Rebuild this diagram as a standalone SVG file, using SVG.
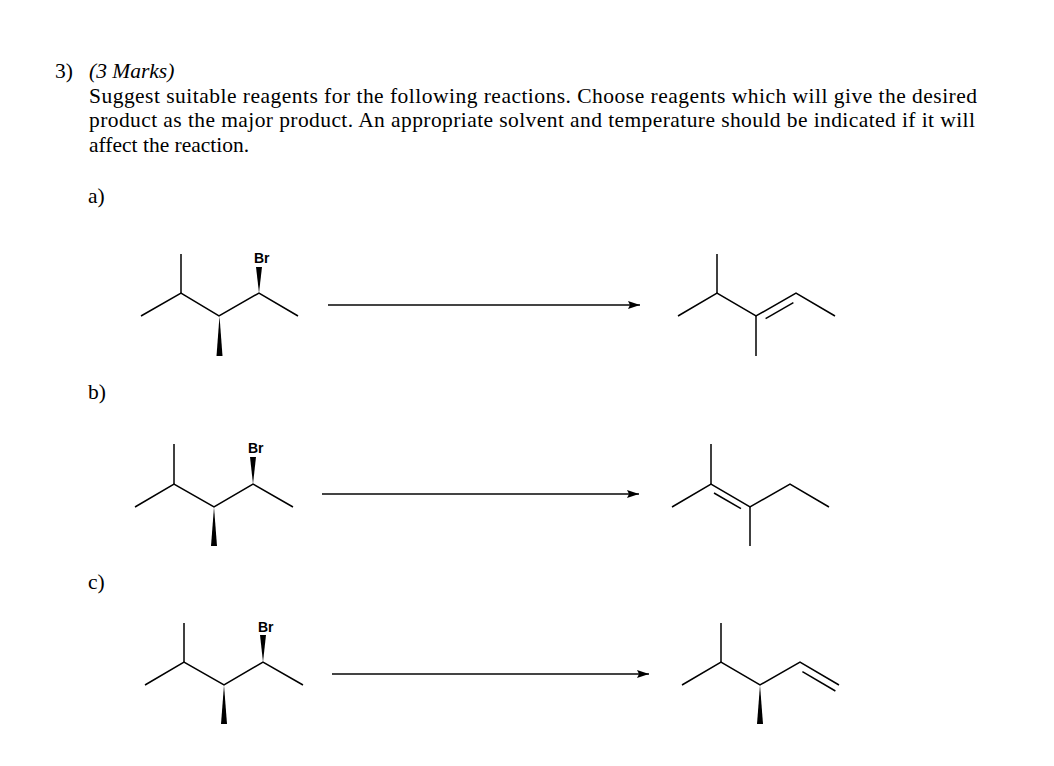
<svg xmlns="http://www.w3.org/2000/svg" width="1054" height="766" viewBox="0 0 1054 766">
<defs>
<style>
.t{font-family:"Liberation Serif","Times New Roman",serif;font-size:21.5px;fill:#000}
.i{font-style:italic}
.br{font-family:"Liberation Sans",Arial,sans-serif;font-size:14px;font-weight:bold;fill:#000}
.b{fill:none;stroke:#000;stroke-width:1.5;stroke-linecap:butt;stroke-linejoin:miter}
.w{fill:#000;stroke:none}
.ar{stroke:#444;stroke-width:2;fill:none}
</style>
<marker id="ah" viewBox="0 0 12 8" refX="12" refY="4" markerWidth="12" markerHeight="8" markerUnits="userSpaceOnUse" orient="auto">
<path d="M0,0 L12,4 L0,8 L2,4 Z" fill="#000"/>
</marker>
</defs>
<rect width="1054" height="766" fill="#fff"/>
<g id="text" xml:space="preserve">
<text class="t" x="55" y="78">3)</text>
<text class="t i" x="89" y="78">(3 Marks)</text>
<text class="t" x="89" y="103" textLength="888" lengthAdjust="spacing">Suggest suitable reagents for the following reactions.  Choose reagents which will give the desired</text>
<text class="t" x="89" y="127" textLength="886" lengthAdjust="spacing">product as the major product. An appropriate solvent and temperature should be indicated if it will</text>
<text class="t" x="89" y="152">affect the reaction.</text>
<text class="t" x="88" y="203">a)</text>
<text class="t" x="88" y="399">b)</text>
<text class="t" x="88" y="589">c)</text>
</g>
<g id="reactant-a">
<polyline class="b" points="141,316 181,293 219,316 259,293 298,316"/>
<line class="b" x1="181" y1="293" x2="181" y2="254"/>
<polygon class="w" points="219.5,316 216.5,356 222.5,356"/>
<polygon class="w" points="259,293 256,267 262,267"/>
<text class="br" x="254" y="263">Br</text>
</g>
<g id="product-a">
<polyline class="b" points="678,316 717,293 756,316 796,293 835,316"/>
<line class="b" x1="717" y1="293" x2="717" y2="254"/>
<line class="b" x1="756" y1="316" x2="756" y2="356"/>
<line class="b" x1="765.6" y1="318.6" x2="793.4" y2="302.6"/>
</g>
<g id="reactant-b">
<polyline class="b" points="135,507 174,484 214,507 253,484 293,507"/>
<line class="b" x1="174" y1="484" x2="174" y2="444"/>
<polygon class="w" points="214,507 211,546 217,546"/>
<polygon class="w" points="253,484 250,457 256,457"/>
<text class="br" x="248" y="453">Br</text>
</g>
<g id="product-b">
<polyline class="b" points="672,507 711,484 750,507 790,484 829,507"/>
<line class="b" x1="711" y1="484" x2="711" y2="444"/>
<line class="b" x1="750" y1="507" x2="750" y2="546"/>
<line class="b" x1="714" y1="493" x2="741" y2="508.6"/>
</g>
<g id="reactant-c">
<polyline class="b" points="145,685 184,662 224,685 263,662 303,685"/>
<line class="b" x1="184" y1="662" x2="184" y2="623"/>
<polygon class="w" points="224,685 221,724 227,724"/>
<polygon class="w" points="263,662 260,635 266,635"/>
<text class="br" x="258" y="632">Br</text>
</g>
<g id="product-c">
<polyline class="b" points="682,685 721,662 760,685 800,662 839,685"/>
<line class="b" x1="721" y1="662" x2="721" y2="623"/>
<polygon class="w" points="760,685 757,724 763,724"/>
<line class="b" x1="802.4" y1="671.6" x2="835.4" y2="691"/>
</g>
<g id="connectors">
<line class="ar" x1="328" y1="305" x2="640" y2="305" marker-end="url(#ah)"/>
<line class="ar" x1="322" y1="494" x2="639" y2="494" marker-end="url(#ah)"/>
<line class="ar" x1="332" y1="674" x2="649" y2="674" marker-end="url(#ah)"/>
</g>
</svg>
